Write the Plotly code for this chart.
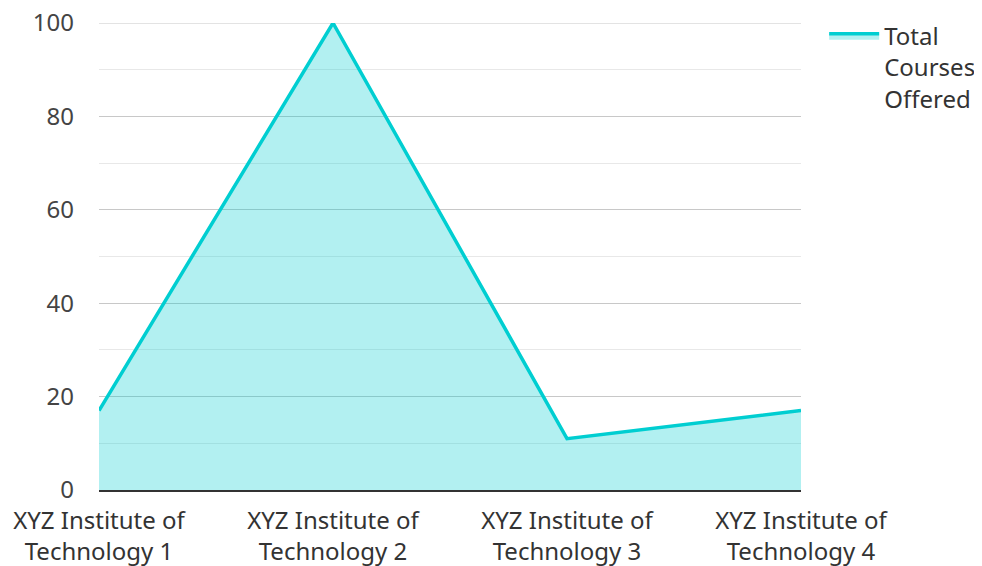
import plotly.graph_objects as go

categories = ["XYZ Institute of<br>Technology 1", "XYZ Institute of<br>Technology 2",
              "XYZ Institute of<br>Technology 3", "XYZ Institute of<br>Technology 4"]
courses = [17, 100, 11, 17]
series_name = "Total<br>Courses<br>Offered"
y_ticks = [0, 20, 40, 60, 80, 100]
y_minor = [10, 30, 50, 70, 90]

fig = go.Figure()
fig.add_trace(go.Scatter(
    x=categories, y=courses, name=series_name, mode="lines",
    fill="tozeroy", fillcolor="rgba(0,206,209,0.3)",
    line=dict(color="#00CED1", width=3.5),
    cliponaxis=False,
))

# top gridline (plotly drops gridlines on the plot edge)
fig.add_shape(type="line", xref="paper", x0=0, x1=1, yref="y", y0=y_ticks[-1], y1=y_ticks[-1],
              line=dict(color="#c8c8c8", width=1), layer="below")

fig.update_layout(
    width=982, height=566,
    margin=dict(l=91, r=189, t=15, b=84, autoexpand=False),
    paper_bgcolor="white", plot_bgcolor="white",
    font=dict(family="Noto Sans", size=24, color="#444"),
    showlegend=True,
    legend=dict(x=1.033, y=1.02, xanchor="left", yanchor="top", valign="top",
                itemwidth=50,
                font=dict(size=24, color="#333"), bgcolor="rgba(0,0,0,0)"),
    xaxis=dict(type="category", range=[0, 3], showgrid=False, zeroline=False,
               showline=True, linecolor="#333", linewidth=2, ticks="",
               automargin=False, ticklabelstandoff=8,
               tickfont=dict(size=24, color="#333")),
    yaxis=dict(range=[0, 100], tickvals=y_ticks,
               showgrid=True, gridcolor="#c8c8c8",
               gridwidth=1, zeroline=False, showline=False, ticks="",
               automargin=False, ticklabelstandoff=24, ticklabeloverflow="allow",
               tickfont=dict(size=24, color="#444"),
               minor=dict(tickvals=y_minor, showgrid=True,
                          gridcolor="#e8e8e8", gridwidth=1)),
)

fig.write_html("out.html")
